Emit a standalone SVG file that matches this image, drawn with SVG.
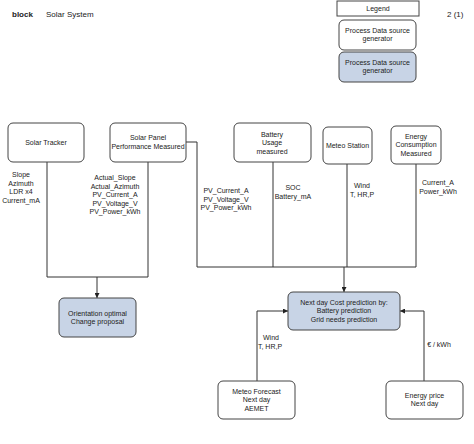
<svg xmlns="http://www.w3.org/2000/svg" width="474" height="444" viewBox="0 0 474 444">
<defs>
<style>
text{font-family:"Liberation Sans",Arial,sans-serif;font-size:7px;fill:#222;text-anchor:middle}
.t{font-size:8px;text-anchor:start}
.b{font-weight:bold}
.n{fill:#fff;stroke:#444;stroke-width:1}
.p{fill:#c8d4e6;stroke:#444;stroke-width:1}
.c{fill:none;stroke:#333;stroke-width:1}
</style>
<marker id="a" viewBox="0 0 6 6" refX="6" refY="3" markerWidth="5" markerHeight="5" orient="auto"><path d="M0,0L6,3L0,6z" fill="#222"/></marker>
</defs>
<rect width="474" height="444" fill="#fff"/>
<g id="header">
<text class="t b" x="12" y="17">block</text>
<text class="t" x="46" y="17">Solar System</text>
<text class="t" x="447" y="17">2 (1)</text>
</g>
<g id="legend">
<rect x="337" y="1" width="82" height="15" fill="#fff" stroke="#444"/>
<text x="378" y="11">Legend</text>
</g>
<g id="legend-white">
<rect class="n" x="339" y="20" width="77" height="30" rx="5"/>
<text x="377.5" y="33">Process Data source</text>
<text x="377.5" y="41">generator</text>
</g>
<g id="legend-blue">
<rect class="p" x="339" y="52" width="77" height="30" rx="5"/>
<text x="377.5" y="65">Process Data source</text>
<text x="377.5" y="73">generator</text>
</g>
<g id="connectors">
<path class="c" d="M47,162V277H148V162"/>
<path class="c" marker-end="url(#a)" d="M97,277V298"/>
<path class="c" d="M186,142H197V267H416V164"/>
<path class="c" d="M273,162V267"/>
<path class="c" d="M347,164V267"/>
<path class="c" marker-end="url(#a)" d="M344,267V292"/>
<path class="c" marker-end="url(#a)" d="M257,381V311H288"/>
<path class="c" marker-end="url(#a)" d="M424,381V311H400"/>
<text x="21" y="177">Slope</text>
<text x="21" y="185.5">Azimuth</text>
<text x="21" y="194">LDR x4</text>
<text x="21" y="202.5">Current_mA</text>
<text x="115" y="180">Actual_Slope</text>
<text x="115" y="188.5">Actual_Azimuth</text>
<text x="115" y="197">PV_Current_A</text>
<text x="115" y="205.5">PV_Voltage_V</text>
<text x="115" y="214">PV_Power_kWh</text>
<text x="226" y="193">PV_Current_A</text>
<text x="226" y="201.5">PV_Voltage_V</text>
<text x="226" y="210">PV_Power_kWh</text>
<text x="293" y="190">SOC</text>
<text x="293" y="198.5">Battery_mA</text>
<text x="362" y="188">Wind</text>
<text x="362" y="196.5">T, HR,P</text>
<text x="438" y="185">Current_A</text>
<text x="438" y="193.5">Power_kWh</text>
<text x="271" y="340">Wind</text>
<text x="270" y="348.5">T, HR,P</text>
<text x="439" y="347">€ / kWh</text>
</g>
<g id="solar-tracker">
<rect class="n" x="8" y="123" width="76" height="39" rx="5"/>
<text x="46" y="145">Solar Tracker</text>
</g>
<g id="solar-panel">
<rect class="n" x="110" y="123" width="76" height="39" rx="5"/>
<text x="148" y="139.5">Solar Panel</text>
<text x="148" y="148.5">Performance Measured</text>
</g>
<g id="battery">
<rect class="n" x="234" y="123" width="77" height="39" rx="5"/>
<text x="272" y="136.5">Battery</text>
<text x="272" y="145">Usage</text>
<text x="272" y="153.5">measured</text>
</g>
<g id="meteo-station">
<rect class="n" x="323" y="127" width="49" height="37" rx="5"/>
<text x="347.5" y="147.5">Meteo Station</text>
</g>
<g id="energy-consumption">
<rect class="n" x="391" y="126" width="50" height="38" rx="5"/>
<text x="416" y="138.5">Energy</text>
<text x="416" y="147">Consumption</text>
<text x="416" y="155.5">Measured</text>
</g>
<g id="orientation">
<rect class="p" x="59" y="298" width="77" height="39" rx="5"/>
<text x="97.5" y="315.5">Orientation optimal</text>
<text x="97.5" y="324">Change proposal</text>
</g>
<g id="cost-prediction">
<rect class="p" x="288" y="292" width="112" height="38" rx="5"/>
<text x="344" y="304.5">Next day Cost prediction by:</text>
<text x="344" y="313">Battery prediction</text>
<text x="344" y="321.5">Grid needs prediction</text>
</g>
<g id="meteo-forecast">
<rect class="n" x="218" y="381" width="77" height="38" rx="5"/>
<text x="256.5" y="393.5">Meteo Forecast</text>
<text x="256.5" y="402">Next day</text>
<text x="256.5" y="410.5">AEMET</text>
</g>
<g id="energy-price">
<rect class="n" x="386" y="381" width="77" height="38" rx="5"/>
<text x="424.5" y="397.5">Energy price</text>
<text x="424.5" y="406">Next day</text>
</g>
</svg>
